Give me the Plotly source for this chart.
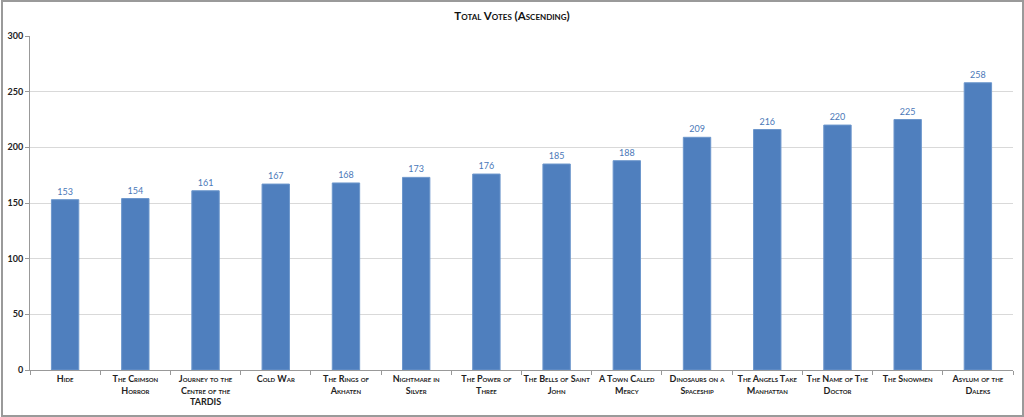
import plotly.graph_objects as go

episodes = ["Hide", "The Crimson<br>Horror", "Journey to the<br>Centre of the<br>TARDIS", "Cold War",
            "The Rings of<br>Akhaten", "Nightmare in<br>Silver", "The Power of<br>Three",
            "The Bells of Saint<br>John", "A Town Called<br>Mercy", "Dinosaurs on a<br>Spaceship",
            "The Angels Take<br>Manhattan", "The Name of The<br>Doctor", "The Snowmen", "Asylum of the<br>Daleks"]
votes = [153, 154, 161, 167, 168, 173, 176, 185, 188, 209, 216, 220, 225, 258]
y_ticks = [0, 50, 100, 150, 200, 250, 300]

fig = go.Figure()
fig.add_trace(go.Bar(
    x=episodes, y=votes, width=0.39,
    marker=dict(color="#4f7fbe", line=dict(color="#6d97cc", width=1)),
    text=[str(v) for v in votes], textposition="outside",
    textfont=dict(family="Lato", size=9, color="#4a78b8"),
    cliponaxis=False,
))

fig.update_layout(
    width=1024, height=417,
    margin=dict(l=30, r=11, t=36, b=47, autoexpand=False),
    paper_bgcolor="white", plot_bgcolor="white",
    showlegend=False,
    title=dict(text="<b>Total Votes (Ascending)</b>", x=0.5, xanchor="center", y=0.962, yanchor="middle",
               font=dict(family="Lato", size=11.5, color="#111", variant="small-caps")),
    xaxis=dict(showline=True, linecolor="#999", linewidth=1, ticks="outside", ticklen=4, tickcolor="#999",
               tickson="boundaries", showgrid=False, automargin=False,
               tickfont=dict(family="Lato", size=9, color="#222", variant="small-caps", weight="bold"),
               tickangle=0),
    yaxis=dict(range=[0, 300], tickvals=y_ticks, showgrid=True, gridcolor="#d9d9d9", gridwidth=1,
               showline=True, linecolor="#999", ticks="outside", ticklen=4, tickcolor="#999", automargin=False,
               tickfont=dict(family="Lato", size=9, color="#222", weight="bold"), zeroline=False),
    shapes=[dict(type="rect", xref="paper", yref="paper",
                 x0=-28/983, x1=1+10/983, y0=-46/334, y1=1+35/334,
                 line=dict(color="#9a9a9a", width=2), layer="below")],
)

fig.write_html("out.html", config={"displayModeBar": False},
               post_script="document.body.style.margin='0';document.body.style.overflow='hidden';")
